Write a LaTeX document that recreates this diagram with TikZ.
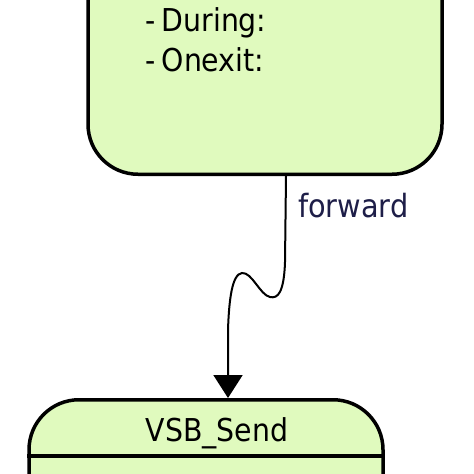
\documentclass[tikz,border=0pt]{standalone}
\usepackage{fontspec}
\setmainfont{DejaVu Sans Condensed}
\usetikzlibrary{arrows.meta}
\definecolor{statefill}{RGB}{224,250,190}
\definecolor{labelcol}{RGB}{30,30,72}
\tikzset{
  statebox/.style={draw=black, line width=3.5pt, fill=statefill, rounded corners=50pt, inner sep=0pt},
  txt/.style={inner sep=0pt, font=\fontsize{31.5}{38}\selectfont},
  trans/.style={draw=black, line width=2pt, -{Triangle[width=29pt,length=23pt]}},
}
\begin{document}
\begin{tikzpicture}[x=1pt,y=-1pt]
\useasboundingbox (0,0) rectangle (474,474);
% top state
\node[statebox, minimum width=354pt, minimum height=375pt, anchor=south] (top) at (265,176) {};
\node[txt, anchor=base west] (during) at (145,31) {-\hspace{0.2em}During:};
\node[txt, anchor=base west] (onexit) at (145,71) {-\hspace{0.2em}Onexit:};
% bottom state
\node[statebox, minimum width=354pt, minimum height=300pt, anchor=north] (bot) at (206,398) {};
\draw[line width=3.5pt] (bot.west |- 0,456) coordinate (hl) -- (bot.east |- 0,456) coordinate (hr);
\node[txt, anchor=base] (name) at (217,441) {VSB\_Send};
% transition
\coordinate (s) at (top.south -| 286,0);
\coordinate (e) at (bot.north -| 228,0);
\draw[trans] (s) -- (285,262) .. controls (284,292) and (278,299) .. (270,297)
  .. controls (260,295) and (252,272) .. (242,273)
  .. controls (232,274) and (229,300) .. (228,330) -- (e);
\node[txt, anchor=base west, text=labelcol, font=\fontsize{32}{38}\selectfont] (lbl) at (298,217) {forward};
\end{tikzpicture}
\end{document}
